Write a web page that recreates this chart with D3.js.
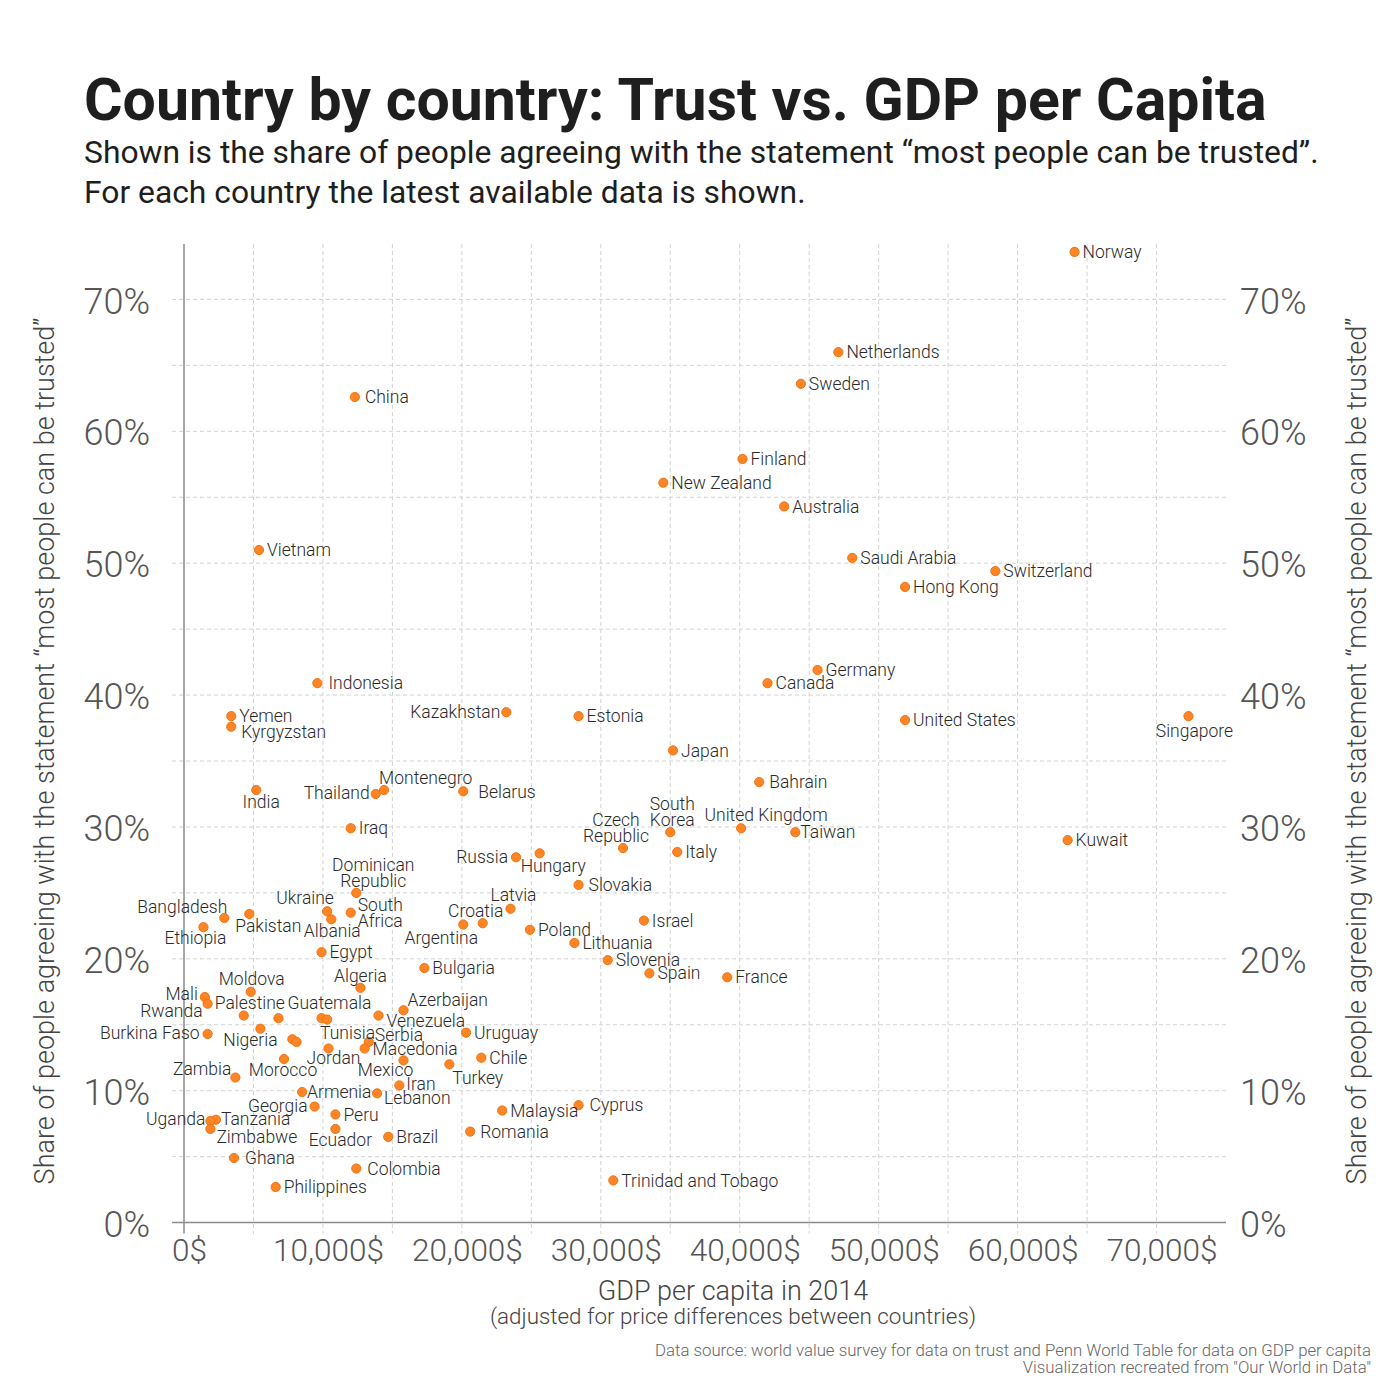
<!DOCTYPE html>
<html>
<head>
<meta charset="utf-8">
<script src="https://cdn.jsdelivr.net/npm/d3@7"></script>
<style>
  body { margin: 0; background: #fff; }
  svg { font-family: Roboto, "Noto Sans", sans-serif; }
</style>
</head>
<body>
<div id="chart"></div>
<script>
// Trust vs GDP per capita
// (GDP per capita in $, trust as % agreeing). Empty name = dot without label.
var countries = [
  'Norway', 'Netherlands', 'Sweden', 'China', 'Finland', 'New Zealand', 'Australia',
  'Vietnam', 'Saudi Arabia', 'Switzerland', 'Hong Kong', 'Germany', 'Indonesia', 'Canada',
  'Kazakhstan', 'Yemen', 'Estonia', 'United States', 'Singapore', 'Kyrgyzstan', 'Japan',
  'Bahrain', 'India', 'Thailand', 'Montenegro', 'Belarus', 'Iraq', 'United Kingdom',
  'South Korea', 'Taiwan', 'Kuwait', 'Czech Republic', 'Italy', 'Hungary', 'Russia',
  'Slovakia', 'Dominican Republic', 'Latvia', 'Ukraine', 'South Africa', 'Pakistan',
  'Albania', 'Bangladesh', 'Israel', 'Croatia', 'Argentina', 'Ethiopia', 'Poland',
  'Lithuania', 'Egypt', 'Slovenia', 'Bulgaria', 'Spain', 'France', 'Algeria', 'Moldova',
  'Mali', 'Rwanda', 'Azerbaijan', 'Palestine', 'Venezuela', 'Guatemala', '', 'Tunisia',
  'Nigeria', 'Uruguay', 'Burkina Faso', '', '', 'Chile', 'Serbia', 'Macedonia', 'Jordan',
  'Morocco', 'Mexico', 'Turkey', 'Zambia', 'Iran', 'Armenia', 'Lebanon', 'Cyprus',
  'Georgia', 'Malaysia', 'Peru', 'Tanzania', 'Uganda', 'Ecuador', 'Zimbabwe', 'Romania',
  'Brazil', 'Ghana', 'Colombia', 'Trinidad and Tobago', 'Philippines'
];
var gdpPerCapita = [
  64100, 47100, 44400, 12300, 40200, 34500, 43200,
  5400, 48100, 58400, 51900, 45600, 9600, 42000,
  23200, 3400, 28400, 51900, 72300, 3400, 35200,
  41400, 5200, 13800, 14400, 20100, 12000, 40100,
  35000, 44000, 63600, 31600, 35500, 25600, 23900,
  28400, 12400, 23500, 10300, 12000, 4700,
  10600, 2900, 33100, 21500, 20100, 1400, 24900,
  28100, 9900, 30500, 17300, 33500, 39100, 12700, 4800,
  1500, 1700, 15800, 4300, 14000, 6800, 9900, 10300,
  5500, 20300, 1700, 7800, 8100, 21400, 13300, 13000, 10400,
  7200, 15800, 19100, 3700, 15500, 8500, 13900, 28400,
  9400, 22900, 10900, 2300, 1900, 10900, 1900, 20600,
  14700, 3600, 12400, 30900, 6600
];
var trustShare = [
  73.6, 66.0, 63.6, 62.6, 57.9, 56.1, 54.3,
  51.0, 50.4, 49.4, 48.2, 41.9, 40.9, 40.9,
  38.7, 38.4, 38.4, 38.1, 38.4, 37.6, 35.8,
  33.4, 32.8, 32.5, 32.8, 32.7, 29.9, 29.9,
  29.6, 29.6, 29.0, 28.4, 28.1, 28.0, 27.7,
  25.6, 25.0, 23.8, 23.6, 23.5, 23.4,
  23.0, 23.1, 22.9, 22.7, 22.6, 22.4, 22.2,
  21.2, 20.5, 19.9, 19.3, 18.9, 18.6, 17.8, 17.5,
  17.1, 16.6, 16.1, 15.7, 15.7, 15.5, 15.5, 15.4,
  14.7, 14.4, 14.3, 13.9, 13.7, 12.5, 13.7, 13.2, 13.2,
  12.4, 12.3, 12.0, 11.0, 10.4, 9.9, 9.8, 8.9,
  8.8, 8.5, 8.2, 7.8, 7.7, 7.1, 7.1, 6.9,
  6.5, 4.9, 4.1, 3.2, 2.7
];
var xTicks = [0, 10000, 20000, 30000, 40000, 50000, 60000, 70000];
var yTicks = [0, 10, 20, 30, 40, 50, 60, 70];

// label placement around each dot: [anchor, dx, dy, lines]; default is right of the dot
var labelPos = {
  'Singapore': ['middle', 6, 15],
  'Kazakhstan': ['end', -6, 0],
  'India': ['middle', 5, 12],
  'Thailand': ['end', -6, -1],
  'Montenegro': ['start', -5, -12],
  'Belarus': ['start', 15, 1],
  'United Kingdom': ['middle', 25, -13],
  'South Korea': ['middle', 2, -28, ['South', 'Korea']],
  'Czech Republic': ['middle', -7, -28, ['Czech', 'Republic']],
  'Dominican Republic': ['middle', 17, -28, ['Dominican', 'Republic']],
  'South Africa': ['start', 7, -8, ['South', 'Africa']],
  'Taiwan': ['start', 5, 0],
  'Hungary': ['start', -19, 13],
  'Russia': ['end', -8, 0],
  'Latvia': ['middle', 3, -14],
  'Ukraine': ['middle', -22, -13],
  'Albania': ['middle', 1, 12],
  'Bangladesh': ['end', 3, -11],
  'Pakistan': ['start', -14, 12],
  'Ethiopia': ['middle', -8, 11],
  'Croatia': ['middle', -7, -12],
  'Argentina': ['middle', -22, 13],
  'Algeria': ['middle', 0, -12],
  'Moldova': ['middle', 1, -13],
  'Mali': ['end', -7, -3],
  'Rwanda': ['end', -5, 7],
  'Palestine': ['start', -29, -13],
  'Guatemala': ['start', 9, -15],
  'Venezuela': ['start', 8, 5],
  'Azerbaijan': ['start', 4, -10],
  'Tunisia': ['start', -7, 13],
  'Nigeria': ['middle', -10, 11],
  'Burkina Faso': ['end', -8, -1],
  'Serbia': ['start', 6, -7],
  'Jordan': ['middle', 5, 9],
  'Morocco': ['middle', -1, 11],
  'Zambia': ['end', -4, -9],
  'Mexico': ['middle', -18, 9],
  'Turkey': ['start', 3, 14],
  'Iran': ['start', 7, -2],
  'Lebanon': ['start', 7, 5],
  'Armenia': ['start', 5, 0],
  'Georgia': ['end', -7, -1],
  'Ecuador': ['middle', 5, 11],
  'Uganda': ['end', -5, -2],
  'Tanzania': ['start', 5, -1],
  'Zimbabwe': ['start', 6, 8],
  'Kyrgyzstan': ['start', 10, 5],
  'Indonesia': ['start', 11, 0],
  'Ghana': ['start', 11, 0],
  'Colombia': ['start', 11, 0],
  'Cyprus': ['start', 11, 0],
  'China': ['start', 10, 0],
  'Bahrain': ['start', 10, 0],
  'Slovakia': ['start', 10, 0],
  'Romania': ['start', 10, 0]
};

var W = 1400, H = 1400;
var plot = { left: 184, right: 1226, top: 244, bottom: 1222.6 };

var svg = d3.select('#chart').append('svg')
  .attr('width', W)
  .attr('height', H);

var x = d3.scaleLinear().domain([0, 75000]).range([plot.left, plot.right]);
var y = d3.scaleLinear().domain([0, 74.2]).range([plot.bottom, plot.top]);

// --- Title block ---
svg.append('text')
  .attr('x', 84).attr('y', 120)
  .attr('font-size', 59).attr('font-weight', 700).attr('fill', '#1e1e1e')
  .text('Country by country: Trust vs. GDP per Capita');

var sub = svg.append('g').attr('font-size', 31.8).attr('fill', '#1e1e1e');
sub.append('text').attr('x', 84).attr('y', 163)
  .text('Shown is the share of people agreeing with the statement \u201cmost people can be trusted\u201d.');
sub.append('text').attr('x', 84).attr('y', 203)
  .text('For each country the latest available data is shown.');

// --- Grid ---
var grid = svg.append('g')
  .attr('stroke', '#d2d2d2')
  .attr('stroke-width', 1)
  .attr('stroke-dasharray', '4,3');

grid.selectAll('line.vgrid')
  .data(d3.range(5000, 75000, 5000))
  .join('line')
  .attr('class', 'vgrid')
  .attr('x1', function (d) { return x(d); })
  .attr('x2', function (d) { return x(d); })
  .attr('y1', plot.top)
  .attr('y2', plot.bottom + 11);

grid.selectAll('line.hgrid')
  .data(d3.range(5, 75, 5))
  .join('line')
  .attr('class', 'hgrid')
  .attr('x1', plot.left - 12)
  .attr('x2', plot.right)
  .attr('y1', function (d) { return y(d); })
  .attr('y2', function (d) { return y(d); });

// --- Axis lines ---
svg.append('line')
  .attr('x1', plot.left).attr('x2', plot.left)
  .attr('y1', plot.top).attr('y2', plot.bottom + 11)
  .attr('stroke', '#8a8a8a').attr('stroke-width', 1.5);
svg.append('line')
  .attr('x1', plot.left - 12).attr('x2', plot.right)
  .attr('y1', plot.bottom).attr('y2', plot.bottom)
  .attr('stroke', '#8a8a8a').attr('stroke-width', 1.5);

// --- Tick labels through d3 axes ---
function styleAxis(size) {
  return function (g) {
    g.select('.domain').remove();
    g.selectAll('line').remove();
    g.selectAll('text')
      .attr('font-family', 'Roboto, "Noto Sans", sans-serif')
      .attr('font-size', size)
      .attr('font-weight', 300)
      .attr('fill', '#555');
  };
}

svg.append('g')
  .attr('transform', 'translate(0,' + plot.bottom + ')')
  .call(d3.axisBottom(x).tickValues(xTicks).tickSize(0).tickPadding(16)
    .tickFormat(function (d) { return d3.format(',')(d) + '$'; }))
  .call(styleAxis(31.5))
  .selectAll('text').attr('dx', 5);

svg.append('g')
  .attr('transform', 'translate(' + plot.left + ',0)')
  .call(d3.axisLeft(y).tickValues(yTicks).tickSize(0).tickPadding(34)
    .tickFormat(function (d) { return d + '%'; }))
  .call(styleAxis(36))
  .selectAll('text').attr('dy', '0.38em');

svg.append('g')
  .attr('transform', 'translate(' + plot.right + ',0)')
  .call(d3.axisRight(y).tickValues(yTicks).tickSize(0).tickPadding(14)
    .tickFormat(function (d) { return d + '%'; }))
  .call(styleAxis(36))
  .selectAll('text').attr('dy', '0.38em');

// --- Axis titles ---
var axisTitle = svg.append('g')
  .attr('font-weight', 300)
  .attr('fill', '#444')
  .attr('text-anchor', 'middle');

axisTitle.append('text')
  .attr('x', 733).attr('y', 1300)
  .attr('font-size', 27)
  .text('GDP per capita in 2014');
axisTitle.append('text')
  .attr('x', 733).attr('y', 1324)
  .attr('font-size', 22.4)
  .text('(adjusted for price differences between countries)');

var yTitle = 'Share of people agreeing with the statement \u201cmost people can be trusted\u201d';
[54, 1366].forEach(function (tx) {
  axisTitle.append('text')
    .attr('transform', 'translate(' + tx + ',751) rotate(-90)')
    .attr('font-size', 27)
    .text(yTitle);
});

// --- Points ---
var points = countries.map(function (name, i) {
  return { name: name, gdp: gdpPerCapita[i], trust: trustShare[i] };
});

svg.append('g')
  .selectAll('circle')
  .data(points)
  .join('circle')
  .attr('cx', function (d) { return x(d.gdp); })
  .attr('cy', function (d) { return y(d.trust); })
  .attr('r', 4.6)
  .attr('fill', '#fd8526')
  .attr('stroke', '#f2730f')
  .attr('stroke-width', 1);

// --- Country labels ---
var labels = svg.append('g')
  .attr('font-size', 17.5)
  .attr('font-weight', 300)
  .attr('fill', '#2a2a2a');

points.filter(function (d) { return d.name !== ''; }).forEach(function (d) {
  var p = labelPos[d.name] || ['start', 8, 0];
  var lines = p[3] || [d.name];
  var t = labels.append('text')
    .attr('text-anchor', p[0]);
  lines.forEach(function (ln, k) {
    t.append('tspan')
      .attr('x', x(d.gdp) + p[1])
      .attr('y', y(d.trust) + p[2] + k * 16)
      .attr('dy', '0.35em')
      .text(ln);
  });
});

// --- Footer ---
var foot = svg.append('g')
  .attr('font-size', 16.8)
  .attr('font-weight', 300)
  .attr('fill', '#666')
  .attr('text-anchor', 'end');
foot.append('text').attr('x', 1371).attr('y', 1356)
  .text('Data source: world value survey for data on trust and Penn World Table for data on GDP per capita');
foot.append('text').attr('x', 1371).attr('y', 1373)
  .text('Visualization recreated from "Our World in Data"');
</script>
</body>
</html>
